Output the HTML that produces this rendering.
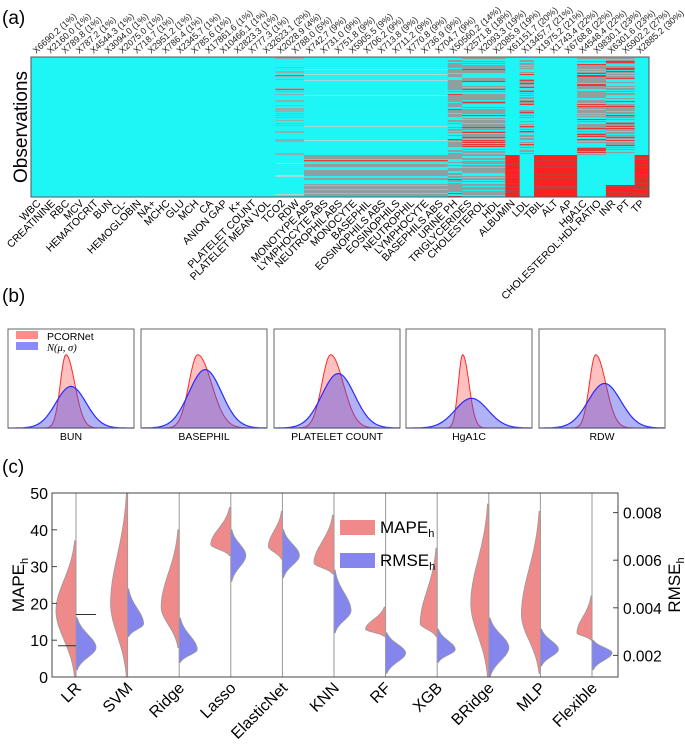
<!DOCTYPE html>
<html><head><meta charset="utf-8"><style>
body{margin:0;background:#fff;}
svg{display:block;font-family:"Liberation Sans",sans-serif;}
</style></head><body>
<svg id="fig" width="685" height="745" viewBox="0 0 685 745" xmlns="http://www.w3.org/2000/svg">
<text x="2" y="24" font-size="19">(a)</text>
<text x="2" y="302" font-size="19">(b)</text>
<text x="2" y="473" font-size="19">(c)</text>
<g id="heat"></g>
<text transform="translate(27,127) rotate(-90)" text-anchor="middle" font-size="19">Observations</text>
<g id="panelb"></g>
<g id="panelc"></g>
</svg>
<script>
// ---------- Panel (a) data ----------
const bottomLabels=["WBC","CREATININE","RBC","MCV","HEMATOCRIT","BUN","CL-","HEMOGLOBIN","NA+","MCHC","GLU","MCH","CA","ANION GAP","K+","PLATELET COUNT","PLATELET MEAN VOL","TCO2","RDW","MONOTYPE ABS","LYMPHOCYTE ABS","NEUTROPHIL ABS","MONOCYTE","BASEPHIL","EOSINOPHILS ABS","EOSINOPHILS","NEUTROPHIL","LYMPHOCYTE","BASEPHILS ABS","URINE PH","TRIGLYCERIDES","CHOLESTEROL","HDL","ALBUMIN","LDL","TBIL","ALT","AP","HgA1C","CHOLESTEROL:HDL RATIO","INR","PT","TP"];
const topLabels=["X6690.2 (1%)","X2160.0 (1%)","X789.8 (1%)","X787.2 (1%)","X4544.3 (1%)","X3094.0 (1%)","X2075.0 (1%)","X718.7 (1%)","X2951.2 (1%)","X786.4 (1%)","X2345.7 (1%)","X785.6 (1%)","X17861.6 (1%)","X10466.1 (1%)","X2823.3 (1%)","X777.3 (1%)","X32623.1 (2%)","X2028.9 (4%)","X788.0 (5%)","X742.7 (9%)","X731.0 (9%)","X751.8 (9%)","X5905.5 (9%)","X706.2 (9%)","X713.8 (9%)","X711.2 (9%)","X770.8 (9%)","X736.9 (9%)","X704.7 (9%)","X50560.2 (14%)","X2571.8 (18%)","X2093.3 (19%)","X2085.9 (19%)","X61151.7 (20%)","X13457.7 (21%)","X1975.2 (21%)","X1743.4 (22%)","X6768.8 (22%)","X4548.4 (22%)","X9830.1 (23%)","X6301.6 (23%)","X5902.2 (27%)","X2885.2 (30%)"];
// segment codes: c=cyan, l=light stripes, m=medium stripes, S=dense stripes, r=dense stripes w/ red, R=red
const segA="cccccccccccccccccmmllllllllllSrrrcrcccrrrrc";
const segB="cccccccccccccccccllSSSSSSSSSSSSSSRcRRRccccR";
const segC="cccccccccccccccccllSSSSSSSSSSSSSSRcRRRccRRR";
const groups=[0,0,0,0,0,0,0,0,0,0,0,0,0,0,0,0,0,1,1,2,2,2,2,2,2,2,2,2,2,3,4,4,4,5,6,7,7,7,8,8,9,9,10];

const NS="http://www.w3.org/2000/svg";
function mk(tag,attrs,parent){const e=document.createElementNS(NS,tag);for(const k in attrs)e.setAttribute(k,attrs[k]);parent.appendChild(e);return e;}
const HX0=31,HX1=649,HY0=57,HY1=197,NR=140;
const cw=(HX1-HX0)/bottomLabels.length;
const heat=document.getElementById('heat');
const bg=mk('rect',{x:HX0,y:HY0,width:HX1-HX0,height:HY1-HY0,fill:'#1ef5f5'},heat);


function hash(g,r){let h=(g*374761393+r*668265263)^0x5bd1e995;h=(h^(h>>>13))*1274126177;h=h^(h>>>16);return ((h>>>0)%1000)/1000;}
function cellColor(code,g,r){
  const u=hash(g,r);
  if(code==='c')return null;
  if(code==='l')return u<0.09?'#a8d8d8':null;
  if(code==='m')return u<0.3?(u<0.04?'#e05050':'#8fb0b0'):null;
  if(code==='S')return u<0.6?(u<0.03?'#e04040':'#8f9f9f'):null;
  if(code==='r')return u<0.6?(u<0.14?'#e23a3a':'#929e9e'):null;
  if(code==='R')return u<0.25?'#c83c3c':'#ff2020';
  return null;
}
for(let r=0;r<NR;r++){
  const f=r/NR;const seg=f<0.7?segA:(f<0.914?segB:segC);
  let run=null;
  for(let c=0;c<=bottomLabels.length;c++){
    const col=c<bottomLabels.length?cellColor(seg[c],groups[c],r):null;
    if(run&&run.col===col)continue;
    if(run&&run.col){const e=mk('rect',{x:(HX0+run.s*cw).toFixed(2),y:HY0+r*(HY1-HY0)/NR,width:((c-run.s)*cw).toFixed(2),height:(HY1-HY0)/NR+0.05,fill:run.col},heat);
      
      }
    run={s:c,col:col};
  }
}
const hb=mk('rect',{x:HX0,y:HY0,width:HX1-HX0,height:HY1-HY0,fill:'none',stroke:'#555','stroke-width':1},heat);


bottomLabels.forEach((lab,i)=>{
  const cx=HX0+(i+0.5)*cw;
  const t=mk('text',{x:0,y:0,'font-size':10.5,'text-anchor':'end',transform:`translate(${cx+3},${HY1+7}) rotate(-45)`},heat);
  t.textContent=lab;
  
  
});
topLabels.forEach((lab,i)=>{
  const cx=HX0+(i+0.5)*cw;
  const t=mk('text',{x:0,y:0,'font-size':9,'text-anchor':'start',fill:'#222',transform:`translate(${cx-2},${HY0-3}) rotate(-42)`},heat);
  t.textContent=lab;
  
  
});

// ---------- Panel (b) data ----------
const bNames=["BUN","BASEPHIL","PLATELET COUNT","HgA1C","RDW"];
const redMu=[0.46,0.45,0.45,0.45,0.45];
const redSdL=[0.045,0.07,0.07,0.035,0.05];
const redSdR=[0.07,0.11,0.1,0.05,0.08];
const redPk=[0.74,0.74,0.74,0.74,0.74];
const blueMu=[0.5,0.51,0.51,0.52,0.52];
const blueSd=[0.12,0.13,0.13,0.13,0.13];
const bluePk=[0.42,0.59,0.55,0.3,0.45];
const pb=document.getElementById('panelb');
const bx0=[8,141,274,406,539],BW=126,BY0=329,BY1=428;
function curve(x0,mu,sdl,sdr,pk){let d=`M${x0},${BY1}`;for(let k=0;k<=140;k++){const u=k/140;const sd=u<mu?sdl:sdr;const v=pk*Math.exp(-0.5*((u-mu)/sd)**2);d+=` L${(x0+u*BW).toFixed(1)},${(BY1-v*(BY1-BY0)).toFixed(1)}`;}return d+` L${x0+BW},${BY1} Z`;}
bNames.forEach((nm,i)=>{
  const x0=bx0[i];
  const g=mk('g',{},pb);
  
  
  const r=mk('path',{d:curve(x0,redMu[i],redSdL[i],redSdR[i],redPk[i]),fill:'rgba(255,60,60,0.32)',stroke:'#ff2a2a','stroke-width':1},g);
  
  
  const b=mk('path',{d:curve(x0,blueMu[i],blueSd[i],blueSd[i],bluePk[i]),fill:'rgba(70,70,230,0.42)',stroke:'#2a2aff','stroke-width':1.2},g);
  
  
  const f=mk('rect',{x:x0,y:BY0,width:BW,height:BY1-BY0,fill:'none',stroke:'#666','stroke-width':1},g);
  
  
  const t=mk('text',{x:x0+BW/2,y:BY1+12,'font-size':10.5,'text-anchor':'middle'},g);
  t.textContent=nm;
  
  
});
{
  const s1=mk('rect',{x:16,y:331,width:22,height:8,fill:'rgba(255,90,90,0.7)'},pb);
  
  
  const t1=mk('text',{x:47,y:340,'font-size':10.5},pb);t1.textContent='PCORNet';
  
  
  const s2=mk('rect',{x:16,y:342,width:22,height:8,fill:'rgba(90,90,255,0.7)'},pb);
  
  
  const t2=mk('text',{x:47,y:351,'font-size':10.5,'font-family':'Liberation Serif','font-style':'italic'},pb);t2.textContent='N(μ, σ)';
  
  
}

// ---------- Panel (c) data ----------
const models=["LR","SVM","Ridge","Lasso","ElasticNet","KNN","RF","XGB","BRidge","MLP","Flexible"];
const mapeMode=[18,20,19,36,35.5,31,13,14.5,20,17,12];
const mapeMin=[0,0,8,33,32,28,11,11,0,1,10];
const mapeMax=[37,50,40,46,45,44,19,35,47,45,22];
const mapeW=[20,17,18,20,14,20,20,17,18,19,15];
const rmseMode=[0.00233,0.00333,0.00225,0.0062,0.0062,0.00388,0.0021,0.00225,0.00233,0.00225,0.0021];
const rmseMin=[0.0014,0.00279,0.00171,0.00511,0.00527,0.00295,0.00125,0.00171,0.00109,0.00156,0.0014];
const rmseMax=[0.00357,0.0048,0.00357,0.00728,0.00728,0.00558,0.00295,0.0031,0.00357,0.0031,0.00264];
const rmseW=[20,16,18,15,17,17,20,18,20,18,20];
const leftTicks=[0,10,20,30,40,50];
const rightTicks=["0.002","0.004","0.006","0.008"];
const PX0=52,PX1=618,PY0=493,PY1=677;
const yL=v=>PY1-v/50*(PY1-PY0);
const yR=v=>703-v*23800;
const xC=i=>76+i*51.6;
const pc=document.getElementById('panelc');
function half(cx,mode,mn,mx,w,yf,dir){
  const sl=(mode-mn)/2.3||1e-9,sh=(mx-mode)/2.3||1e-9;
  let d=`M${cx},${yf(mn).toFixed(1)}`;
  for(let k=0;k<=80;k++){const v=mn+(mx-mn)*k/80;const s=v<mode?sl:sh;const den=Math.exp(-0.5*((v-mode)/s)**2);d+=` L${(cx+dir*w*den).toFixed(1)},${yf(v).toFixed(1)}`;}
  return d+` L${cx},${yf(mx).toFixed(1)} Z`;
}
models.forEach((m,i)=>{
  const cx=xC(i);
  const ln=mk('line',{x1:cx,x2:cx,y1:PY0,y2:PY1,stroke:'#999','stroke-width':1},pc);
  
  
  const r=mk('path',{d:half(cx,mapeMode[i],mapeMin[i],mapeMax[i],mapeW[i],yL,-1),fill:'#ef8a8a',stroke:'#9a9a9a','stroke-width':0.8},pc);
  
  
  const b=mk('path',{d:half(cx,rmseMode[i],rmseMin[i],rmseMax[i],rmseW[i],yR,1),fill:'#8585ee',stroke:'#9a9a9a','stroke-width':0.8},pc);
  
  
  const t=mk('text',{x:0,y:0,'font-size':16,'text-anchor':'end',transform:`translate(${cx+6},${PY1+12}) rotate(-45)`},pc);
  t.textContent=m;
  
  
});
{
  const q1=mk('line',{x1:PX0+6,x2:xC(0),y1:yL(8.5),y2:yL(8.5),stroke:'#333','stroke-width':1},pc);
  
  
  const q2=mk('line',{x1:xC(0),x2:xC(0)+20,y1:yL(17),y2:yL(17),stroke:'#333','stroke-width':1},pc);
  
  
}
const fr=mk('rect',{x:PX0,y:PY0,width:PX1-PX0,height:PY1-PY0,fill:'none',stroke:'#444','stroke-width':1},pc);


leftTicks.forEach(v=>{
  const y=yL(v);
  const tk=mk('line',{x1:PX0,x2:PX0+5,y1:y,y2:y,stroke:'#444'},pc);
  
  
  const t=mk('text',{x:PX0-4,y:y+6,'font-size':16,'text-anchor':'end'},pc);t.textContent=v;
  
  
});
rightTicks.forEach(s=>{
  const y=yR(parseFloat(s));
  const tk=mk('line',{x1:PX1-5,x2:PX1,y1:y,y2:y,stroke:'#444'},pc);
  
  
  const t=mk('text',{x:PX1+5,y:y+6,'font-size':15.5,'text-anchor':'start'},pc);t.textContent=s;
  
  
});
{
  const ta=mk('text',{x:0,y:0,'font-size':17,'text-anchor':'middle',transform:`translate(24,585) rotate(-90)`},pc);
  ta.innerHTML='MAPE<tspan font-size="11" dy="4">h</tspan>';
  
  
  const tb=mk('text',{x:0,y:0,'font-size':17,'text-anchor':'middle',transform:`translate(680,585) rotate(-90)`},pc);
  tb.innerHTML='RMSE<tspan font-size="11" dy="4">h</tspan>';
  
  
  const s1=mk('rect',{x:340,y:520,width:35,height:15,fill:'#f08a8a'},pc);
  
  
  const l1=mk('text',{x:380,y:533,'font-size':17},pc);l1.innerHTML='MAPE<tspan font-size="11" dy="4">h</tspan>';
  
  
  const s2=mk('rect',{x:340,y:553,width:35,height:15,fill:'#8585ee'},pc);
  
  
  const l2=mk('text',{x:380,y:566,'font-size':17},pc);l2.innerHTML='RMSE<tspan font-size="11" dy="4">h</tspan>';
  
  
}
</script>
</body></html>
